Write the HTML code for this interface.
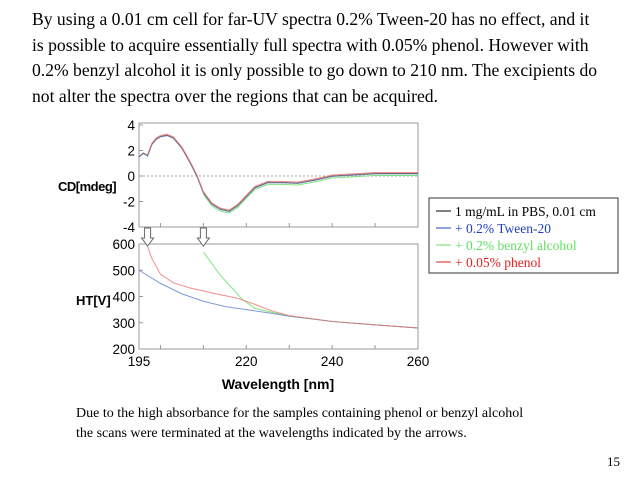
<!DOCTYPE html>
<html><head><meta charset="utf-8"><style>
body{margin:0;width:638px;height:478px;background:#fff;position:relative;overflow:hidden;font-family:"Liberation Serif",serif}
.t{position:absolute;left:32px;top:7px;font-size:17.6px;line-height:25.5px;white-space:nowrap;color:#000}
.b{position:absolute;left:76px;top:404px;font-size:14px;line-height:19.5px}
.n{position:absolute;left:607px;top:454px;font-size:13px}
svg{position:absolute;left:0;top:0}
</style></head><body>
<div class="t">By using a 0.01 cm cell for far-UV spectra 0.2% Tween-20 has no effect, and it<br>is possible to acquire essentially full spectra with 0.05% phenol. However with<br>0.2% benzyl alcohol it is only possible to go down to 210 nm. The excipients do<br>not alter the spectra over the regions that can be acquired.</div>
<div class="b">Due to the high absorbance for the samples containing phenol or benzyl alcohol<br>the scans were terminated at the wavelengths indicated by the arrows.</div>
<div class="n">15</div>
<svg id="c" width="638" height="478"></svg>
<script>
const xTicks=[195,220,240,260];
const cdTicks=[4,2,0,-2,-4];
const htTicks=[600,500,400,300,200];
const cdWl=[195,196,197,198,199,200,201.5,203,205,207,208.5,210,212,214,216,218,220,222,225,228,232,236,240,245,250,255,260];
const cdVals=[1.5,1.8,1.6,2.5,2.9,3.1,3.2,3.0,2.2,1.0,0,-1.3,-2.2,-2.6,-2.75,-2.3,-1.6,-0.9,-0.5,-0.5,-0.55,-0.3,0,0.1,0.2,0.2,0.2];
const blueWl=[195,200,205,210,215,220,225,230,240,250,260];
const blueHt=[500,450,410,382,362,350,338,325,305,292,280];
const redWl=[197,198,200,203,207,212,218,222,226,230,240,250,260];
const redHt=[590,545,485,452,432,414,393,370,345,327,305,292,280];
const greenWl=[210,214,219,222,226,230,240,250,260];
const greenHt=[570,480,390,355,340,325,305,292,280];
const NS='http://www.w3.org/2000/svg',svg=document.getElementById('c');
const X0=139,X1=418;
const x=w=>X0+(w-195)/(260-195)*(X1-X0);
const yCd=v=>125+(4-v)/8*102;
const yHt=v=>244+(600-v)/400*105;
function el(t,a,p){const e=document.createElementNS(NS,t);for(const k in a)e.setAttribute(k,a[k]);(p||svg).appendChild(e);return e;}
let r=el('rect',{x:X0,y:123,width:X1-X0,height:104,fill:'none',stroke:'#999','stroke-width':1});

r=el('rect',{x:X0,y:244,width:X1-X0,height:105,fill:'none',stroke:'#999','stroke-width':1});

el('line',{x1:X0,x2:X1,y1:yCd(0),y2:yCd(0),stroke:'#aaa','stroke-dasharray':'2,2'});
const txt=(s,a,name)=>{const e=el('text',Object.assign({'font-family':'Liberation Sans, sans-serif','font-size':13.5},a));e.textContent=s;return e;};
cdTicks.forEach(v=>{txt(v,{x:135,y:yCd(v)+5,'text-anchor':'end'},'cd-tick-label');el('line',{x1:X0,x2:X0+4,y1:yCd(v),y2:yCd(v),stroke:'#999'});});
htTicks.forEach(v=>{txt(v,{x:135,y:yHt(v)+5,'text-anchor':'end'},'ht-tick-label');el('line',{x1:X0,x2:X0+4,y1:yHt(v),y2:yHt(v),stroke:'#999'});});
xTicks.forEach(v=>{txt(v,{x:x(v),y:366,'text-anchor':'middle'},'x-tick-label');});
for(let w=200;w<260;w+=10){el('line',{x1:x(w),x2:x(w),y1:349,y2:345,stroke:'#999'});el('line',{x1:x(w),x2:x(w),y1:227,y2:223,stroke:'#999'});}
txt('Wavelength [nm]',{x:278,y:389,'text-anchor':'middle','font-weight':'bold','font-size':14},'x-axis-title');
txt('CD[mdeg]',{x:58,y:191,'font-weight':'bold','font-size':13,'letter-spacing':'-0.5'},'cd-axis-title');
txt('HT[V]',{x:76,y:305,'font-weight':'bold','font-size':13},'ht-axis-title');
function line(wl,vals,fy,col,name,off){const p=el('polyline',{points:wl.map((w,i)=>x(w)+','+(fy(vals[i])+(off||0))).join(' '),fill:'none',stroke:col,'stroke-width':1,opacity:0.8});}
line(cdWl,cdVals,yCd,'#7090e0','cd-tween',0.5);
line(cdWl.filter(w=>w>=210),cdVals.filter((v,i)=>cdWl[i]>=210),yCd,'#60e060','cd-benzyl',2);
line(cdWl,cdVals,yCd,'#555','cd-pbs',0);
line(cdWl.filter(w=>w>=197),cdVals.filter((v,i)=>cdWl[i]>=197),yCd,'#f07070','cd-phenol',-1);
line(greenWl,greenHt,yHt,'#60e060','ht-benzyl');
line(blueWl,blueHt,yHt,'#6080d0','ht-tween');
line(redWl,redHt,yHt,'#f07070','ht-phenol');
[197,210].forEach(w=>{const a=el('path',{d:`M${x(w)-3},228 h6 v10 h3 l-6,8 l-6,-8 h3 z`,fill:'#fff',stroke:'#666'});});
const lg=el('rect',{x:429,y:198,width:189,height:75,fill:'#fff',stroke:'#333'});

const names=['1 mg/mL in PBS, 0.01 cm','+ 0.2% Tween-20','+ 0.2% benzyl alcohol','+ 0.05% phenol'];
const cols=['#000','#2040c0','#60e060','#e02020'];
names.forEach((n,i)=>{const y=211+i*17;el('line',{x1:436,x2:451,y1:y,y2:y,stroke:cols[i]});const t=el('text',{x:455,y:y+5,'font-family':'Liberation Serif, serif','font-size':13.5,fill:cols[i]});t.textContent=n;});
</script>
</body></html>
